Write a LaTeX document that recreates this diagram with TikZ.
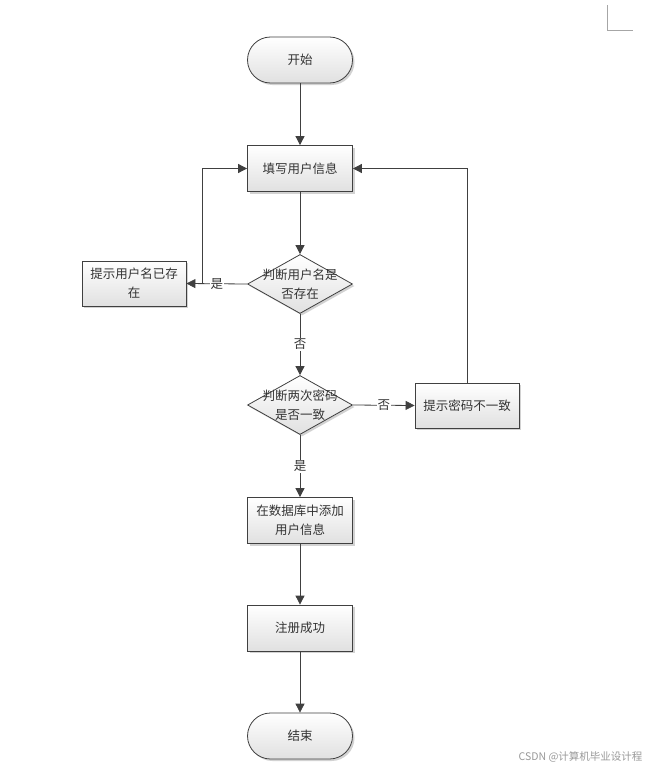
\documentclass[tikz,border=0pt]{standalone}
\usepackage{fontspec}
\newfontfamily\cjk{Noto Sans CJK SC}
\usetikzlibrary{shapes.geometric,arrows.meta,shadows}
\begin{document}
\begin{tikzpicture}[x=1pt,y=-1pt,
  font=\cjk\fontsize{12.5}{19}\selectfont,
  base/.style={draw=black!75, line width=0.8pt, top color=white, bottom color=black!12,
    drop shadow={shadow xshift=2pt,shadow yshift=-2pt,fill=black!35,opacity=0.5},
    text=black!80, align=center, inner sep=0pt},
  term/.style={base, rounded corners=23pt, minimum width=105pt, minimum height=46pt},
  proc/.style={base, minimum width=105pt, minimum height=46pt},
  dec/.style={base, diamond, minimum width=105pt, minimum height=59pt},
  txt/.style={text=black!80, align=center, inner sep=0pt},
  arr/.style={draw=black!75, line width=0.8pt, -{Triangle[length=9pt,width=9pt]}},
  ln/.style={fill=white, inner sep=1pt, text=black!80}]
\useasboundingbox (0,0) rectangle (653,771);
\fill[white] (0,0) rectangle (653,771);
\draw[black!35, line width=0.6pt] (607,5) -- (607,30) -- (633,30);

\node[term] (start) at (300,60) {开始};
\node[proc] (b1) at (300,168.5) {填写用户信息};
\node[dec] (d1) at (300,284) {};
\node[txt] (d1t) at (d1) {判断用户名是\\否存在};
\node[proc, minimum width=104pt, minimum height=45pt] (left) at (134,283.5) {提示用户名已存\\在};
\node[dec] (d2) at (300,405) {};
\node[txt] (d2t) at (d2) {判断两次密码\\是否一致};
\node[proc, minimum width=104pt, minimum height=45pt] (right) at (467,405.5) {提示密码不一致};
\node[proc] (db) at (300,520.5) {在数据库中添加\\用户信息};
\node[proc] (ok) at (300,628) {注册成功};
\node[term] (end) at (300,736) {结束};
\coordinate (j1) at (202,284);

\draw[arr] (start) -- (b1);
\draw[arr] (b1) -- (d1);
\draw[arr] (d1.west) -- node[ln] {是} (left.east);
\draw[arr] (j1) |- (b1.west);
\draw[arr] (d1) -- node[ln] {否} (d2);
\draw[arr] (d2.east) -- node[ln] {否} (right.west);
\draw[arr] (right.north) |- (b1.east);
\draw[arr] (d2) -- node[ln] {是} (db);
\draw[arr] (db) -- (ok);
\draw[arr] (ok) -- (end);

\node[text=black!40, font=\cjk\fontsize{10.5}{12}\selectfont, anchor=east] (wm) at (646,757) {CSDN @计算机毕业设计程};
\end{tikzpicture}
\end{document}
